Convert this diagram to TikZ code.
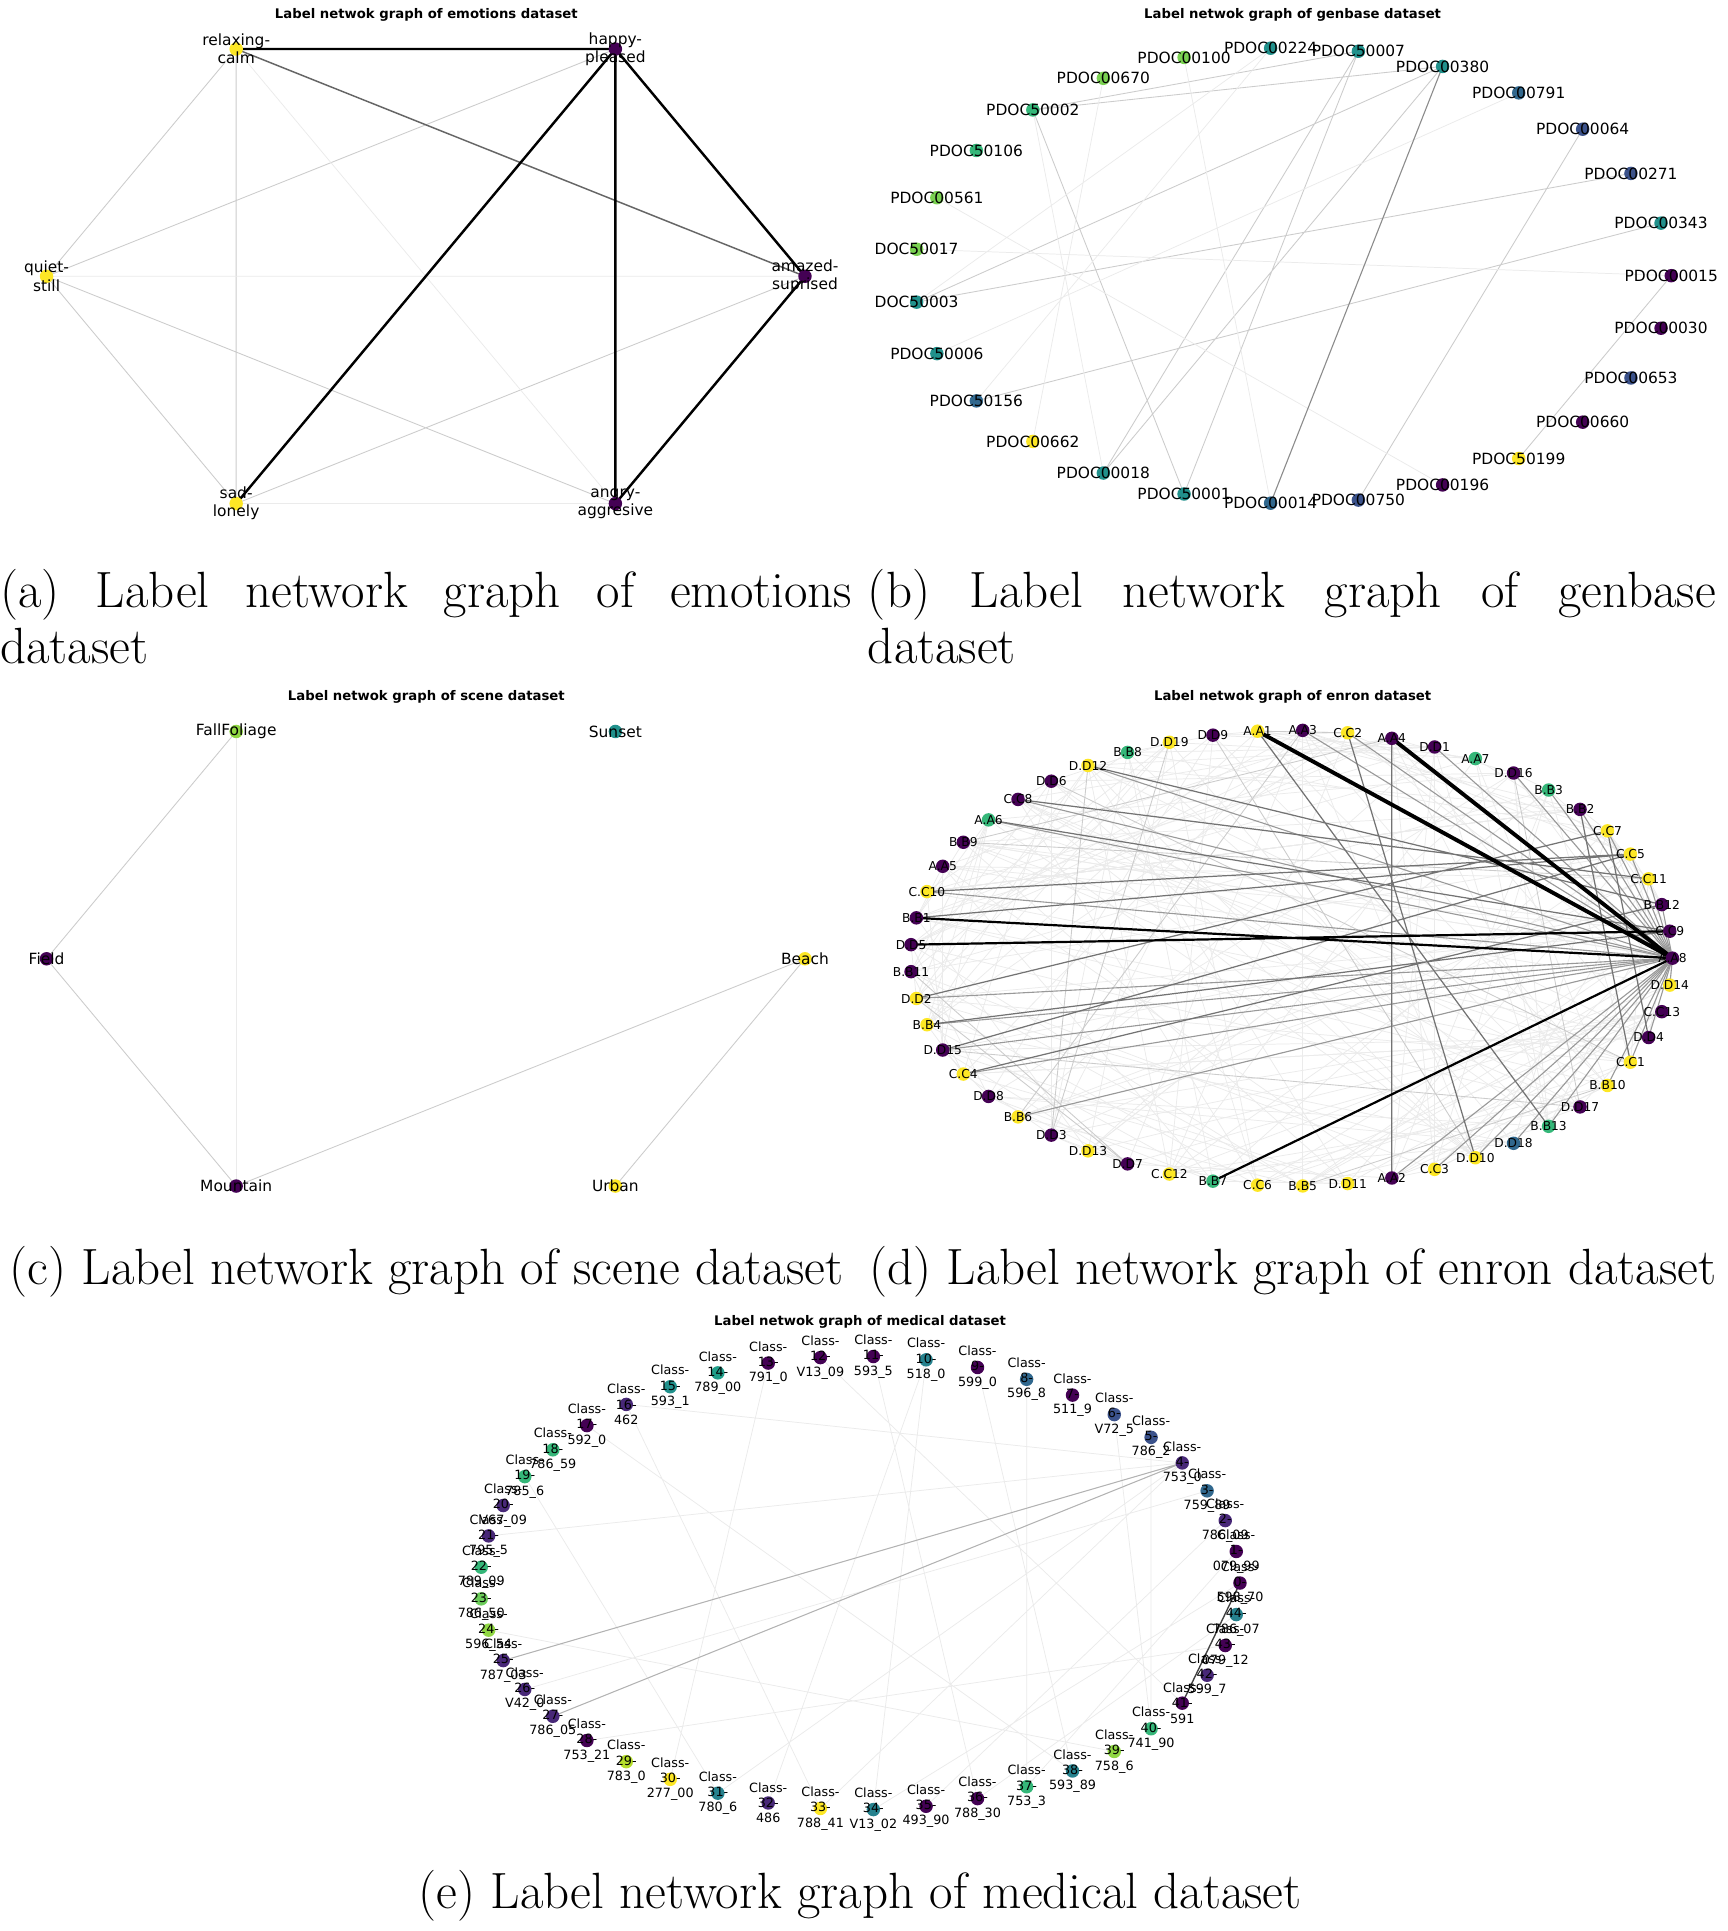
\documentclass[tikz,border=0pt]{standalone}
\usepackage{fontspec}
\newfontfamily\dv{DejaVu Sans}
\definecolor{vP}{HTML}{440154}
\definecolor{vQ}{HTML}{482878}
\definecolor{vD}{HTML}{3B528B}
\definecolor{vB}{HTML}{31688E}
\definecolor{vC}{HTML}{26828E}
\definecolor{vT}{HTML}{21918C}
\definecolor{vU}{HTML}{1F9E89}
\definecolor{vG}{HTML}{35B779}
\definecolor{vH}{HTML}{6CCD5A}
\definecolor{vL}{HTML}{7AD151}
\definecolor{vM}{HTML}{90D743}
\definecolor{vN}{HTML}{B5DE2B}
\definecolor{vY}{HTML}{FDE725}
\tikzset{
 gn/.style={circle,inner sep=0pt,minimum size=5.5pt,draw=none},
 lbl/.style={font=\dv\fontsize{6.3}{7.4}\selectfont,align=center,inner sep=0pt},
 slbl/.style={font=\dv\fontsize{5}{6}\selectfont,align=center,inner sep=0pt},
 mlbl/.style={font=\dv\fontsize{5.2}{6.2}\selectfont,align=center,inner sep=0pt},
 ttl/.style={font=\dv\bfseries\fontsize{5.4}{6}\selectfont,inner sep=0pt},
 captxt/.style={font=\fontsize{20.8}{23}\selectfont,inner sep=0pt},
 thk/.style={black,line width=1pt},
 lite/.style={black!20,line width=0.35pt},
 vlite/.style={black!8,line width=0.3pt},
}
\begin{document}
\begin{tikzpicture}[x=0.5pt,y=-0.5pt]
\useasboundingbox[fill=white] (0,0) rectangle (1410,1576);
% ---------- titles
\node[ttl] (t1) at (348,12) {Label netwok graph of emotions dataset};
\node[ttl] (t2) at (1055,12) {Label netwok graph of genbase dataset};
\node[ttl] (t3) at (348,569) {Label netwok graph of scene dataset};
\node[ttl] (t4) at (1055,569) {Label netwok graph of enron dataset};
\node[ttl] (t5) at (702,1079) {Label netwok graph of medical dataset};
% ---------- emotions
\foreach \k in {0,...,5}{\coordinate (em\k) at ({347.5+309.5*cos(60*\k)},{225.5-214.2*sin(60*\k)});}
\draw[lite] (em2)--(em3) (em2)--(em4) (em3)--(em1) (em3)--(em5) (em4)--(em0) (em3)--(em4);
\draw[vlite] (em4)--(em5) (em2)--(em5) (em3)--(em0);
\draw[black!60,line width=0.6pt] (em2)--(em0);
\draw[thk] (em2)--(em1) (em1)--(em0) (em1)--(em5) (em1)--(em4) (em0)--(em5);
\foreach \k/\t/\c in {0/amazed-\\suprised/vP,1/happy-\\pleased/vP,2/relaxing-\\calm/vY,3/quiet-\\still/vY,4/sad-\\lonely/vY,5/angry-\\aggresive/vP}{
 \node[gn,fill=\c] (emn\k) at (em\k) {};
 \node[lbl] (eml\k) at (em\k) {\t};}
% ---------- scene
\foreach \k in {0,...,5}{\coordinate (sc\k) at ({347.5+309.5*cos(60*\k)},{782.5-214.2*sin(60*\k)});}
\draw[lite] (sc2)--(sc3) (sc3)--(sc4) (sc4)--(sc0) (sc0)--(sc5);
\draw[vlite] (sc2)--(sc4);
\foreach \k/\t/\c in {0/Beach/vY,1/Sunset/vT,2/FallFoliage/vM,3/Field/vP,4/Mountain/vP,5/Urban/vY}{
 \node[gn,fill=\c] (scn\k) at (sc\k) {};
 \node[lbl] (scl\k) at (sc\k) {\t};}
% ---------- genbase
\foreach \k in {0,...,26}{\coordinate (g\k) at ({1055+309*cos(360/27*\k)},{225-186*sin(360/27*\k)});}
\draw[lite] (g10)--(g5) (g14)--(g5) (g18)--(g5) (g18)--(g6) (g19)--(g10) (g19)--(g6) (g16)--(g1) (g0)--(g23) (g14)--(g2) (g10)--(g6) (g21)--(g3);
\draw[vlite] (g14)--(g7) (g18)--(g10) (g12)--(g22) (g15)--(g4) (g17)--(g9) (g13)--(g0) (g20)--(g8) (g16)--(g7);
\draw[black!45,line width=0.45pt] (g20)--(g5);
\foreach \k/\t/\c in {0/PDOC00015/vP,1/PDOC00343/vT,2/PDOC00271/vD,3/PDOC00064/vD,4/PDOC00791/vB,5/PDOC00380/vT,6/PDOC50007/vT,7/PDOC00224/vT,8/PDOC00100/vL,9/PDOC00670/vL,10/PDOC50002/vG,11/PDOC50106/vG,12/PDOC00561/vL,13/DOC50017/vL,14/DOC50003/vT,15/PDOC50006/vT,16/PDOC50156/vB,17/PDOC00662/vY,18/PDOC00018/vT,19/PDOC50001/vT,20/PDOC00014/vB,21/PDOC00750/vD,22/PDOC00196/vP,23/PDOC50199/vY,24/PDOC00660/vP,25/PDOC00653/vD,26/PDOC00030/vP}{
 \node[gn,fill=\c] (gn\k) at (g\k) {};
 \node[lbl] (gl\k) at (g\k) {\t};}
% ---------- enron
\foreach \k in {0,...,52}{\coordinate (e\k) at ({1054+311*cos(360/53*\k)},{782-186*sin(360/53*\k)});}
\foreach \i in {0,...,52}{\foreach \j in {1,2,3,4}{
 \pgfmathtruncatemacro\m{mod(\i*(\j*7+4)+\j*11,53)}
 \draw[vlite] (e\i)--(e\m);}}
\foreach \i in {3,8,12,16,19,22,27,33,34,36,40,44,47}{\pgfmathtruncatemacro\m{mod(\i*5+7,53)}\draw[lite] (e\i)--(e\m);}
\foreach \i in {12,13,10,8,7,6,5,4,3,2,52,50,49,48,46,45,44,43,42,33,31,30,29,28,24,21,20,18}{\draw[black!40,line width=0.45pt] (e\i)--(e0);}
\draw[black!55,line width=0.5pt] (e25)--(e4) (e30)--(e4) (e31)--(e2) (e29)--(e1) (e28)--(e5) (e20)--(e3) (e21)--(e1) (e18)--(e2) (e24)--(e4) (e49)--(e6) (e50)--(e5) (e42)--(e11) (e44)--(e12) (e46)--(e14);
\draw[black,line width=0.9pt] (e38)--(e0) (e26)--(e1) (e25)--(e0);
\draw[black,line width=1.6pt] (e14)--(e0) (e11)--(e0);
\foreach \k/\t/\c in {0/A.A8/vP,1/C.C9/vP,2/B.B12/vP,3/C.C11/vY,4/C.C5/vY,5/C.C7/vY,6/B.B2/vP,7/B.B3/vG,8/D.D16/vP,9/A.A7/vG,10/D.D1/vP,11/A.A4/vP,12/C.C2/vY,13/A.A3/vP,14/A.A1/vY,15/D.D9/vP,16/D.D19/vY,17/B.B8/vG,18/D.D12/vY,19/D.D6/vP,20/C.C8/vP,21/A.A6/vG,22/B.B9/vP,23/A.A5/vP,24/C.C10/vY,25/B.B1/vP,26/D.D5/vP,27/B.B11/vP,28/D.D2/vY,29/B.B4/vY,30/D.D15/vP,31/C.C4/vY,32/D.D8/vP,33/B.B6/vY,34/D.D3/vP,35/D.D13/vY,36/D.D7/vP,37/C.C12/vY,38/B.B7/vG,39/C.C6/vY,40/B.B5/vY,41/D.D11/vY,42/A.A2/vP,43/C.C3/vY,44/D.D10/vY,45/D.D18/vB,46/B.B13/vG,47/D.D17/vP,48/B.B10/vY,49/C.C1/vY,50/D.D4/vP,51/C.C13/vP,52/D.D14/vY}{
 \node[gn,fill=\c] (en\k) at (e\k) {};
 \node[slbl] (el\k) at (e\k) {\t};}
% ---------- medical
\foreach \k in {0,...,44}{\coordinate (m\k) at ({702+310*cos(8*\k)},{1292-185*sin(8*\k)});}
\draw[vlite] (m4)--(m21) (m4)--(m16) (m4)--(m27) (m4)--(m25) (m4)--(m33) (m4)--(m31) (m24)--(m39) (m11)--(m36) (m9)--(m38) (m8)--(m37) (m10)--(m32) (m10)--(m34) (m13)--(m30) (m16)--(m33) (m17)--(m38) (m19)--(m31) (m2)--(m35) (m1)--(m37) (m3)--(m26) (m28)--(m43) (m12)--(m41) (m6)--(m40) (m44)--(m36) (m5)--(m40) (m0)--(m34);
\draw[black!30,line width=0.4pt] (m4)--(m27) (m4)--(m25);
\draw[black!75,line width=0.55pt] (m41)--(m0);
\foreach \k/\t/\c in {0/598\_70/vP,1/079\_99/vP,2/786\_09/vQ,3/759\_89/vB,4/753\_0/vQ,5/786\_2/vD,6/V72\_5/vD,7/511\_9/vP,8/596\_8/vB,9/599\_0/vP,10/518\_0/vC,11/593\_5/vP,12/V13\_09/vP,13/791\_0/vP,14/789\_00/vU,15/593\_1/vT,16/462/vQ,17/592\_0/vP,18/786\_59/vG,19/785\_6/vG,20/V67\_09/vQ,21/795\_5/vQ,22/789\_09/vG,23/786\_50/vH,24/596\_54/vM,25/787\_03/vQ,26/V42\_0/vQ,27/786\_05/vQ,28/753\_21/vP,29/783\_0/vN,30/277\_00/vY,31/780\_6/vC,32/486/vQ,33/788\_41/vY,34/V13\_02/vC,35/493\_90/vP,36/788\_30/vP,37/753\_3/vG,38/593\_89/vC,39/758\_6/vM,40/741\_90/vG,41/591/vP,42/599\_7/vQ,43/079\_12/vP,44/786\_07/vC}{
 \node[gn,fill=\c] (mn\k) at (m\k) {};
 \node[mlbl] (ml\k) at (m\k) {Class-\\\k-\\\t};}
% ---------- captions
\node[captxt,text width=347.5pt,align=justify,anchor=north west] (ca) at (0,464) {\hyphenpenalty10000 (a) Label network graph of emotions dataset};
\node[captxt,text width=346pt,align=justify,anchor=north west] (cb) at (708,464) {\hyphenpenalty10000 (b) Label network graph of genbase dataset};
\node[captxt] (cc) at (348,1038) {(c) Label network graph of scene dataset};
\node[captxt] (cd) at (1055,1038) {(d) Label network graph of enron dataset};
\node[captxt] (ce) at (702,1547) {(e) Label network graph of medical dataset};
\end{tikzpicture}
\end{document}
